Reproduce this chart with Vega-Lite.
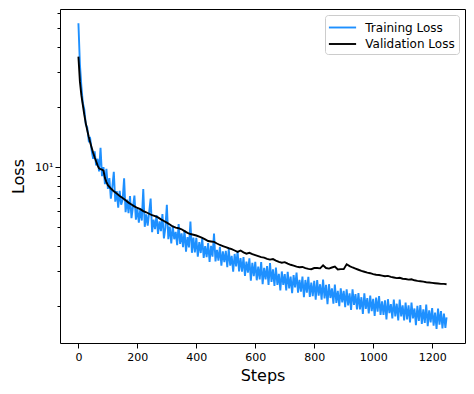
{
  "$schema": "https://vega.github.io/schema/vega-lite/v6.json",
  "autosize": "none",
  "width": 405,
  "height": 334,
  "padding": {"left": 60, "top": 9, "right": 9, "bottom": 51},
  "background": "white",
  "config": {
    "font": "DejaVu Sans",
    "view": {"stroke": "black", "strokeWidth": 1},
    "axis": {"grid": false, "domain": false, "tickColor": "black", "labelColor": "black", "titleColor": "black", "titleFontWeight": "normal", "labelFont": "DejaVu Sans", "titleFont": "DejaVu Sans"}
  },
  "datasets": {
    "train": [
      {"step":0,"loss":53},{"step":5,"loss":33},{"step":10,"loss":25.5},{"step":15,"loss":21.0},{"step":20,"loss":19.5},{"step":25,"loss":16.4},{"step":30,"loss":15.8},{"step":35,"loss":13.6},{"step":40,"loss":13.9},{"step":45,"loss":12.1},{"step":50,"loss":11.0},{"step":55,"loss":12.0},{"step":60,"loss":10.2},{"step":65,"loss":11.0},{"step":70,"loss":9.5},{"step":75,"loss":12.5},{"step":80,"loss":9.0},{"step":85,"loss":10.0},{"step":90,"loss":8.2},{"step":95,"loss":9.8},
      {"step":100,"loss":7.76},{"step":105,"loss":8.79},{"step":110,"loss":6.93},{"step":115,"loss":7.93},{"step":120,"loss":9.47},{"step":125,"loss":6.69},{"step":130,"loss":7.57},{"step":135,"loss":6.25},{"step":140,"loss":7.59},{"step":145,"loss":6.46},{"step":150,"loss":6.83},{"step":155,"loss":8.78},{"step":160,"loss":5.92},{"step":165,"loss":6.85},{"step":170,"loss":5.86},{"step":175,"loss":7.15},{"step":180,"loss":5.53},{"step":185,"loss":6.30},{"step":190,"loss":7.18},{"step":195,"loss":5.43},{"step":200,"loss":6.17},
      {"step":205,"loss":5.25},{"step":210,"loss":6.17},{"step":215,"loss":5.38},{"step":220,"loss":7.74},{"step":225,"loss":5.0},{"step":230,"loss":5.78},{"step":235,"loss":5.07},{"step":240,"loss":5.93},{"step":245,"loss":6.94},{"step":250,"loss":4.70},{"step":255,"loss":5.44},{"step":260,"loss":4.87},{"step":265,"loss":5.73},{"step":270,"loss":4.61},{"step":275,"loss":5.32},{"step":280,"loss":4.76},{"step":285,"loss":5.79},{"step":290,"loss":4.37},{"step":295,"loss":4.94},{"step":300,"loss":6.46},
      {"step":305,"loss":4.33},{"step":310,"loss":5.01},{"step":315,"loss":4.13},{"step":320,"loss":5.06},{"step":325,"loss":4.33},{"step":330,"loss":4.71},{"step":335,"loss":4.04},{"step":340,"loss":5.16},{"step":345,"loss":4.10},{"step":350,"loss":4.64},{"step":355,"loss":3.95},{"step":360,"loss":4.82},{"step":365,"loss":3.75},{"step":370,"loss":4.44},{"step":375,"loss":3.94},{"step":380,"loss":5.31},{"step":385,"loss":3.70},{"step":390,"loss":4.41},{"step":395,"loss":3.72},{"step":400,"loss":4.40},
      {"step":405,"loss":3.54},{"step":410,"loss":4.19},{"step":415,"loss":3.69},{"step":420,"loss":4.37},{"step":425,"loss":3.49},{"step":430,"loss":4.00},{"step":435,"loss":3.52},{"step":440,"loss":4.14},{"step":445,"loss":3.33},{"step":450,"loss":4.01},{"step":455,"loss":3.54},{"step":460,"loss":4.63},{"step":465,"loss":3.35},{"step":470,"loss":3.83},{"step":475,"loss":3.38},{"step":480,"loss":3.96},{"step":485,"loss":3.19},{"step":490,"loss":3.76},{"step":495,"loss":3.32},{"step":500,"loss":3.78},
      {"step":505,"loss":3.13},{"step":510,"loss":3.86},{"step":515,"loss":3.19},{"step":520,"loss":3.57},{"step":525,"loss":2.97},{"step":530,"loss":3.65},{"step":535,"loss":3.16},{"step":540,"loss":3.76},{"step":545,"loss":2.98},{"step":550,"loss":3.48},{"step":555,"loss":2.97},{"step":560,"loss":3.52},{"step":565,"loss":2.83},{"step":570,"loss":3.34},{"step":575,"loss":2.94},{"step":580,"loss":3.47},{"step":585,"loss":2.68},{"step":590,"loss":3.29},{"step":595,"loss":2.82},{"step":600,"loss":3.33},
      {"step":605,"loss":2.69},{"step":610,"loss":3.15},{"step":615,"loss":2.72},{"step":620,"loss":3.32},{"step":625,"loss":2.57},{"step":630,"loss":3.11},{"step":635,"loss":2.72},{"step":640,"loss":3.17},{"step":645,"loss":2.55},{"step":650,"loss":3.28},{"step":655,"loss":2.64},{"step":660,"loss":3.05},{"step":665,"loss":2.52},{"step":670,"loss":3.12},{"step":675,"loss":2.55},{"step":680,"loss":2.90},{"step":685,"loss":2.39},{"step":690,"loss":2.98},{"step":695,"loss":2.55},{"step":700,"loss":2.89},
      {"step":705,"loss":2.39},{"step":710,"loss":2.97},{"step":715,"loss":2.45},{"step":720,"loss":2.81},{"step":725,"loss":2.32},{"step":730,"loss":2.86},{"step":735,"loss":2.48},{"step":740,"loss":2.94},{"step":745,"loss":2.33},{"step":750,"loss":2.70},{"step":755,"loss":2.36},{"step":760,"loss":2.81},{"step":765,"loss":2.21},{"step":770,"loss":2.70},{"step":775,"loss":2.33},{"step":780,"loss":2.80},{"step":785,"loss":2.22},{"step":790,"loss":2.62},{"step":795,"loss":2.24},{"step":800,"loss":2.67},
      {"step":805,"loss":2.15},{"step":810,"loss":2.70},{"step":815,"loss":2.25},{"step":820,"loss":2.57},{"step":825,"loss":2.15},{"step":830,"loss":2.71},{"step":835,"loss":2.18},{"step":840,"loss":2.55},{"step":845,"loss":2.04},{"step":850,"loss":2.57},{"step":855,"loss":2.19},{"step":860,"loss":2.45},{"step":865,"loss":2.05},{"step":870,"loss":2.56},{"step":875,"loss":2.07},{"step":880,"loss":2.38},{"step":885,"loss":1.99},{"step":890,"loss":2.45},{"step":895,"loss":2.08},{"step":900,"loss":2.38},
      {"step":905,"loss":1.97},{"step":910,"loss":2.42},{"step":915,"loss":2.01},{"step":920,"loss":2.31},{"step":925,"loss":1.91},{"step":930,"loss":2.42},{"step":935,"loss":2.02},{"step":940,"loss":2.29},{"step":945,"loss":1.92},{"step":950,"loss":2.32},{"step":955,"loss":1.92},{"step":960,"loss":2.21},{"step":965,"loss":1.82},{"step":970,"loss":2.31},{"step":975,"loss":1.93},{"step":980,"loss":2.19},{"step":985,"loss":1.83},{"step":990,"loss":2.25},{"step":995,"loss":1.88},{"step":1000,"loss":2.17},
      {"step":1005,"loss":1.78},{"step":1010,"loss":2.20},{"step":1015,"loss":1.87},{"step":1020,"loss":2.24},{"step":1025,"loss":1.80},{"step":1030,"loss":2.11},{"step":1035,"loss":1.80},{"step":1040,"loss":2.13},{"step":1045,"loss":1.71},{"step":1050,"loss":2.16},{"step":1055,"loss":1.84},{"step":1060,"loss":2.04},{"step":1065,"loss":1.73},{"step":1070,"loss":2.15},{"step":1075,"loss":1.77},{"step":1080,"loss":2.05},{"step":1085,"loss":1.69},{"step":1090,"loss":2.15},{"step":1095,"loss":1.77},{"step":1100,"loss":2.01},
      {"step":1105,"loss":1.69},{"step":1110,"loss":2.08},{"step":1115,"loss":1.71},{"step":1120,"loss":2.01},{"step":1125,"loss":1.65},{"step":1130,"loss":2.08},{"step":1135,"loss":1.73},{"step":1140,"loss":1.94},{"step":1145,"loss":1.60},{"step":1150,"loss":2.00},{"step":1155,"loss":1.68},{"step":1160,"loss":2.02},{"step":1165,"loss":1.62},{"step":1170,"loss":1.92},{"step":1175,"loss":1.64},{"step":1180,"loss":2.03},{"step":1185,"loss":1.58},{"step":1190,"loss":1.90},{"step":1195,"loss":1.65},{"step":1200,"loss":1.95},
      {"step":1205,"loss":1.59},{"step":1210,"loss":1.85},{"step":1215,"loss":1.53},{"step":1220,"loss":1.94},{"step":1225,"loss":1.61},{"step":1230,"loss":1.88},{"step":1235,"loss":1.54},{"step":1240,"loss":1.83},{"step":1245,"loss":1.55},{"step":1249,"loss":1.75}
    ],
    "val": [
      {"step":0,"loss":36},{"step":5,"loss":27},{"step":10,"loss":23},{"step":15,"loss":20.5},{"step":20,"loss":18.3},{"step":25,"loss":16.6},{"step":30,"loss":15.3},{"step":35,"loss":14.2},{"step":40,"loss":13.3},{"step":45,"loss":12.5},{"step":50,"loss":11.8},{"step":55,"loss":11.2},{"step":60,"loss":10.7},{"step":65,"loss":10.2},{"step":70,"loss":9.85},{"step":75,"loss":9.75},{"step":80,"loss":9.7},{"step":85,"loss":9.6},{"step":90,"loss":8.8},{"step":95,"loss":8.4},{"step":100,"loss":8.1},
      {"step":110,"loss":7.8},{"step":120,"loss":7.55},{"step":130,"loss":7.35},{"step":140,"loss":7.15},{"step":150,"loss":6.98},{"step":160,"loss":6.8},{"step":170,"loss":6.62},{"step":180,"loss":6.48},{"step":190,"loss":6.34},{"step":200,"loss":6.22},
      {"step":210,"loss":6.14},{"step":220,"loss":6.0},{"step":230,"loss":5.92},{"step":240,"loss":5.82},{"step":250,"loss":5.72},{"step":260,"loss":5.66},{"step":270,"loss":5.58},{"step":280,"loss":5.45},{"step":290,"loss":5.35},{"step":300,"loss":5.25},
      {"step":310,"loss":5.14},{"step":320,"loss":5.02},{"step":330,"loss":4.95},{"step":340,"loss":4.92},{"step":350,"loss":4.86},{"step":360,"loss":4.76},{"step":370,"loss":4.66},{"step":380,"loss":4.60},{"step":390,"loss":4.56},{"step":400,"loss":4.52},
      {"step":410,"loss":4.46},{"step":420,"loss":4.40},{"step":430,"loss":4.32},{"step":440,"loss":4.24},{"step":450,"loss":4.22},{"step":460,"loss":4.20},{"step":470,"loss":4.12},{"step":480,"loss":4.05},{"step":490,"loss":4.00},{"step":500,"loss":3.95},
      {"step":510,"loss":3.90},{"step":520,"loss":3.86},{"step":530,"loss":3.80},{"step":540,"loss":3.74},{"step":550,"loss":3.80},{"step":560,"loss":3.72},{"step":570,"loss":3.66},{"step":580,"loss":3.70},{"step":590,"loss":3.64},{"step":600,"loss":3.60},
      {"step":610,"loss":3.56},{"step":620,"loss":3.52},{"step":630,"loss":3.50},{"step":640,"loss":3.45},{"step":650,"loss":3.42},{"step":660,"loss":3.44},{"step":670,"loss":3.38},{"step":680,"loss":3.33},{"step":690,"loss":3.30},{"step":700,"loss":3.32},
      {"step":710,"loss":3.26},{"step":720,"loss":3.22},{"step":730,"loss":3.19},{"step":740,"loss":3.15},{"step":750,"loss":3.13},{"step":760,"loss":3.14},{"step":770,"loss":3.10},{"step":780,"loss":3.07},{"step":790,"loss":3.06},{"step":800,"loss":3.10},
      {"step":810,"loss":3.10},{"step":820,"loss":3.09},{"step":830,"loss":3.20},{"step":840,"loss":3.10},{"step":850,"loss":3.08},{"step":860,"loss":3.12},{"step":870,"loss":3.15},{"step":880,"loss":3.05},{"step":890,"loss":3.06},{"step":900,"loss":3.06},
      {"step":910,"loss":3.24},{"step":920,"loss":3.17},{"step":930,"loss":3.12},{"step":940,"loss":3.08},{"step":950,"loss":3.04},{"step":960,"loss":3.00},{"step":970,"loss":2.97},{"step":980,"loss":2.94},{"step":990,"loss":2.92},{"step":1000,"loss":2.89},
      {"step":1010,"loss":2.87},{"step":1020,"loss":2.86},{"step":1030,"loss":2.84},{"step":1040,"loss":2.82},{"step":1050,"loss":2.83},{"step":1060,"loss":2.80},{"step":1070,"loss":2.78},{"step":1080,"loss":2.76},{"step":1090,"loss":2.77},{"step":1100,"loss":2.74},
      {"step":1110,"loss":2.73},{"step":1120,"loss":2.71},{"step":1130,"loss":2.72},{"step":1140,"loss":2.69},{"step":1150,"loss":2.67},{"step":1160,"loss":2.66},{"step":1170,"loss":2.65},{"step":1180,"loss":2.63},{"step":1190,"loss":2.62},{"step":1200,"loss":2.61},
      {"step":1210,"loss":2.60},{"step":1220,"loss":2.59},{"step":1230,"loss":2.58},{"step":1240,"loss":2.58},{"step":1249,"loss":2.57}
    ]
  },
  "layer": [
    {
      "data": {"name": "train"},
      "mark": {"type": "line", "strokeWidth": 1.9, "clip": true},
      "encoding": {
        "x": {"field": "step", "type": "quantitative", "scale": {"domain": [-62.5, 1311.5], "nice": false, "zero": false},
              "axis": {"title": "Steps", "format": "d", "values": [0,200,400,600,800,1000,1200], "tickSize": 5, "labelFontSize": 11, "titleFontSize": 16, "labelPadding": 3, "titlePadding": 5, "labelFlush": false}},
        "y": {"field": "loss", "type": "quantitative", "scale": {"type": "log", "domain": [1.30, 62.5], "nice": false},
              "axis": {"title": "Loss", "values": [2,3,4,5,6,7,8,9,10,20,30,40,50,60],
                       "labelExpr": "datum.value == 10 ? '10¹' : ''",
                       "tickSize": {"condition": {"test": "datum.value == 10", "value": 5}, "value": 3},
                       "labelFontSize": 11, "titleFontSize": 16, "labelPadding": 2, "titlePadding": 8}},
        "color": {"datum": "Training Loss", "type": "nominal",
                  "scale": {"domain": ["Training Loss", "Validation Loss"], "range": ["#1E90FF", "#000000"]},
                  "legend": {"title": null, "orient": "top-right", "offset": 6, "fillColor": "white", "strokeColor": "#cccccc", "cornerRadius": 3, "padding": 3.5, "rowPadding": 1.5, "symbolType": "M-1.7,0H1.7", "symbolSize": 256, "symbolOffset": 5, "symbolStrokeWidth": 1.9, "labelFontSize": 12, "labelOffset": 13.8, "labelColor": "black", "labelFont": "DejaVu Sans"}}
      }
    },
    {
      "data": {"name": "val"},
      "mark": {"type": "line", "strokeWidth": 1.9, "clip": true},
      "encoding": {
        "x": {"field": "step", "type": "quantitative"},
        "y": {"field": "loss", "type": "quantitative"},
        "color": {"datum": "Validation Loss", "type": "nominal"}
      }
    }
  ]
}
